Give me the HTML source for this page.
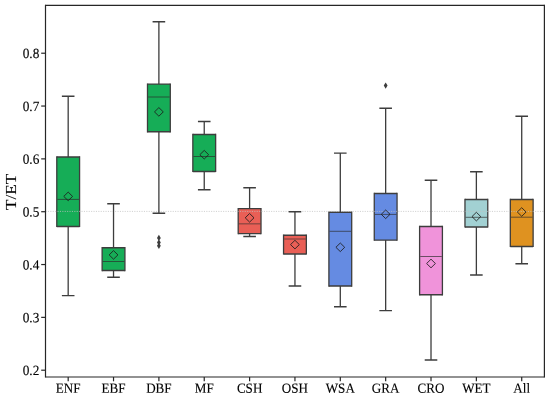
<!DOCTYPE html>
<html><head><meta charset="utf-8"><title>T/ET boxplot</title>
<style>html,body{margin:0;padding:0;background:#fff}svg{display:block}text{font-family:"Liberation Serif","Times New Roman",serif;fill:#000;stroke:#000;stroke-width:0.12px}</style></head><body>
<svg width="550" height="397" viewBox="0 0 550 397">
<rect x="0" y="0" width="550" height="397" fill="#fff"/>
<g stroke="#3d3d3d" fill="none">
<rect x="56.78" y="157.0" width="22.8" height="69.40" fill="#16ad57" stroke="none"/>
<path d="M56.78 156.28V227.12M79.58 156.28V227.12" stroke-width="1.3"/>
<path d="M56.78 157.0H79.58M56.78 226.4H79.58" stroke-width="1.45"/>
</g>
<g stroke="#3d3d3d" fill="none">
<rect x="102.13" y="247.7" width="22.8" height="22.80" fill="#16ad57" stroke="none"/>
<path d="M102.13 246.97V271.23M124.93 246.97V271.23" stroke-width="1.3"/>
<path d="M102.13 247.7H124.93M102.13 270.5H124.93" stroke-width="1.45"/>
</g>
<g stroke="#3d3d3d" fill="none">
<rect x="147.49" y="84.1" width="22.8" height="47.60" fill="#16ad57" stroke="none"/>
<path d="M147.49 83.38V132.42M170.29 83.38V132.42" stroke-width="1.3"/>
<path d="M147.49 84.1H170.29M147.49 131.7H170.29" stroke-width="1.45"/>
</g>
<g stroke="#3d3d3d" fill="none">
<rect x="192.84" y="134.5" width="22.8" height="36.90" fill="#16ad57" stroke="none"/>
<path d="M192.84 133.78V172.12M215.64 133.78V172.12" stroke-width="1.3"/>
<path d="M192.84 134.5H215.64M192.84 171.4H215.64" stroke-width="1.45"/>
</g>
<g stroke="#3d3d3d" fill="none">
<rect x="238.20" y="208.6" width="22.8" height="25.00" fill="#e95f56" stroke="none"/>
<path d="M238.20 207.88V234.32M261.00 207.88V234.32" stroke-width="1.3"/>
<path d="M238.20 208.6H261.00M238.20 233.6H261.00" stroke-width="1.45"/>
</g>
<g stroke="#3d3d3d" fill="none">
<rect x="283.55" y="235.2" width="22.8" height="18.70" fill="#e95f56" stroke="none"/>
<path d="M283.55 234.47V254.62M306.35 234.47V254.62" stroke-width="1.3"/>
<path d="M283.55 235.2H306.35M283.55 253.9H306.35" stroke-width="1.45"/>
</g>
<g stroke="#3d3d3d" fill="none">
<rect x="328.90" y="212.2" width="22.8" height="73.80" fill="#658be2" stroke="none"/>
<path d="M328.90 211.47V286.73M351.70 211.47V286.73" stroke-width="1.3"/>
<path d="M328.90 212.2H351.70M328.90 286.0H351.70" stroke-width="1.45"/>
</g>
<g stroke="#3d3d3d" fill="none">
<rect x="374.26" y="193.5" width="22.8" height="46.60" fill="#658be2" stroke="none"/>
<path d="M374.26 192.78V240.82M397.06 192.78V240.82" stroke-width="1.3"/>
<path d="M374.26 193.5H397.06M374.26 240.1H397.06" stroke-width="1.45"/>
</g>
<g stroke="#3d3d3d" fill="none">
<rect x="419.61" y="226.5" width="22.8" height="68.20" fill="#f093da" stroke="none"/>
<path d="M419.61 225.78V295.43M442.41 225.78V295.43" stroke-width="1.3"/>
<path d="M419.61 226.5H442.41M419.61 294.7H442.41" stroke-width="1.45"/>
</g>
<g stroke="#3d3d3d" fill="none">
<rect x="464.97" y="199.5" width="22.8" height="27.40" fill="#a2d1d3" stroke="none"/>
<path d="M464.97 198.78V227.62M487.77 198.78V227.62" stroke-width="1.3"/>
<path d="M464.97 199.5H487.77M464.97 226.9H487.77" stroke-width="1.45"/>
</g>
<g stroke="#3d3d3d" fill="none">
<rect x="510.32" y="199.5" width="22.8" height="46.90" fill="#df9220" stroke="none"/>
<path d="M510.32 198.78V247.12M533.12 198.78V247.12" stroke-width="1.3"/>
<path d="M510.32 199.5H533.12M510.32 246.4H533.12" stroke-width="1.45"/>
</g>
<line x1="45.5" y1="211.4" x2="544.4" y2="211.4" stroke="#c0c0c0" stroke-opacity="0.75" stroke-width="1" stroke-dasharray="1.1 1.3"/>
<g stroke="#3d3d3d" fill="none">
<path d="M68.18 96.3V157.0M68.18 226.4V295.6" stroke-width="1.3"/>
<path d="M61.88 96.3H74.48M61.88 295.6H74.48" stroke-width="1.45"/>
<path d="M57.43 199.4H78.93" stroke-width="0.85" stroke="#2b2b2b" stroke-opacity="0.8"/>
<path d="M68.18 192.10L72.58 196.40L68.18 200.70L63.78 196.40Z" stroke-width="0.85" stroke="#1c1c1c"/>
</g>
<g stroke="#3d3d3d" fill="none">
<path d="M113.53 203.8V247.7M113.53 270.5V277.3" stroke-width="1.3"/>
<path d="M107.23 203.8H119.83M107.23 277.3H119.83" stroke-width="1.45"/>
<path d="M102.78 261.5H124.28" stroke-width="0.85" stroke="#2b2b2b" stroke-opacity="0.8"/>
<path d="M113.53 250.60L117.93 254.90L113.53 259.20L109.13 254.90Z" stroke-width="0.85" stroke="#1c1c1c"/>
</g>
<g stroke="#3d3d3d" fill="none">
<path d="M158.89 21.8V84.1M158.89 131.7V213.2" stroke-width="1.3"/>
<path d="M152.59 21.8H165.19M152.59 213.2H165.19" stroke-width="1.45"/>
<path d="M148.14 97.0H169.64" stroke-width="0.85" stroke="#2b2b2b" stroke-opacity="0.8"/>
<path d="M158.89 107.60L163.29 111.90L158.89 116.20L154.49 111.90Z" stroke-width="0.85" stroke="#1c1c1c"/>
</g>
<path d="M158.89 234.80L160.79 237.90L158.89 241.00L156.99 237.90Z" fill="#3d3d3d"/>
<path d="M158.89 239.30L160.79 242.40L158.89 245.50L156.99 242.40Z" fill="#3d3d3d"/>
<path d="M158.89 242.70L160.79 245.80L158.89 248.90L156.99 245.80Z" fill="#3d3d3d"/>
<g stroke="#3d3d3d" fill="none">
<path d="M204.24 121.4V134.5M204.24 171.4V189.8" stroke-width="1.3"/>
<path d="M197.94 121.4H210.54M197.94 189.8H210.54" stroke-width="1.45"/>
<path d="M193.49 156.5H214.99" stroke-width="0.85" stroke="#2b2b2b" stroke-opacity="0.8"/>
<path d="M204.24 150.40L208.64 154.70L204.24 159.00L199.84 154.70Z" stroke-width="0.85" stroke="#1c1c1c"/>
</g>
<g stroke="#3d3d3d" fill="none">
<path d="M249.60 187.7V208.6M249.60 233.6V236.4" stroke-width="1.3"/>
<path d="M243.30 187.7H255.90M243.30 236.4H255.90" stroke-width="1.45"/>
<path d="M238.85 223.8H260.35" stroke-width="1.25" stroke="#2b2b2b" stroke-opacity="0.5"/>
<path d="M249.60 213.50L254.00 217.80L249.60 222.10L245.20 217.80Z" stroke-width="0.85" stroke="#1c1c1c"/>
</g>
<g stroke="#3d3d3d" fill="none">
<path d="M294.95 211.7V235.2M294.95 253.9V285.9" stroke-width="1.3"/>
<path d="M288.65 211.7H301.25M288.65 285.9H301.25" stroke-width="1.45"/>
<path d="M284.20 239.0H305.70" stroke-width="1.25" stroke="#2b2b2b" stroke-opacity="0.5"/>
<path d="M294.95 240.30L299.35 244.60L294.95 248.90L290.55 244.60Z" stroke-width="0.85" stroke="#1c1c1c"/>
</g>
<g stroke="#3d3d3d" fill="none">
<path d="M340.30 153.1V212.2M340.30 286.0V306.8" stroke-width="1.3"/>
<path d="M334.00 153.1H346.60M334.00 306.8H346.60" stroke-width="1.45"/>
<path d="M329.55 231.3H351.05" stroke-width="0.85" stroke="#2b2b2b" stroke-opacity="0.8"/>
<path d="M340.30 243.00L344.70 247.30L340.30 251.60L335.90 247.30Z" stroke-width="0.85" stroke="#1c1c1c"/>
</g>
<g stroke="#3d3d3d" fill="none">
<path d="M385.66 108.2V193.5M385.66 240.1V310.6" stroke-width="1.3"/>
<path d="M379.36 108.2H391.96M379.36 310.6H391.96" stroke-width="1.45"/>
<path d="M374.91 214.4H396.41" stroke-width="0.85" stroke="#2b2b2b" stroke-opacity="0.8"/>
<path d="M385.66 210.00L390.06 214.30L385.66 218.60L381.26 214.30Z" stroke-width="0.85" stroke="#1c1c1c"/>
</g>
<path d="M385.66 82.50L387.56 85.60L385.66 88.70L383.76 85.60Z" fill="#3d3d3d"/>
<g stroke="#3d3d3d" fill="none">
<path d="M431.01 180.2V226.5M431.01 294.7V359.9" stroke-width="1.3"/>
<path d="M424.71 180.2H437.31M424.71 359.9H437.31" stroke-width="1.45"/>
<path d="M420.26 256.5H441.76" stroke-width="0.85" stroke="#2b2b2b" stroke-opacity="0.8"/>
<path d="M431.01 259.20L435.41 263.50L431.01 267.80L426.61 263.50Z" stroke-width="0.85" stroke="#1c1c1c"/>
</g>
<g stroke="#3d3d3d" fill="none">
<path d="M476.37 171.8V199.5M476.37 226.9V275.0" stroke-width="1.3"/>
<path d="M470.07 171.8H482.67M470.07 275.0H482.67" stroke-width="1.45"/>
<path d="M465.62 217.3H487.12" stroke-width="0.85" stroke="#2b2b2b" stroke-opacity="0.8"/>
<path d="M476.37 212.30L480.77 216.60L476.37 220.90L471.97 216.60Z" stroke-width="0.85" stroke="#1c1c1c"/>
</g>
<g stroke="#3d3d3d" fill="none">
<path d="M521.72 116.2V199.5M521.72 246.4V263.7" stroke-width="1.3"/>
<path d="M515.42 116.2H528.02M515.42 263.7H528.02" stroke-width="1.45"/>
<path d="M510.97 217.2H532.47" stroke-width="0.85" stroke="#2b2b2b" stroke-opacity="0.8"/>
<path d="M521.72 207.70L526.12 212.00L521.72 216.30L517.32 212.00Z" stroke-width="0.85" stroke="#1c1c1c"/>
</g>
<path d="M45.5 4.7V377.6M544.4 4.7V377.6" fill="none" stroke="#262626" stroke-width="1.2"/>
<path d="M45.5 5.3H544.4M45.5 377.0H544.4" fill="none" stroke="#262626" stroke-width="1.2"/>
<line x1="41.2" y1="370.20" x2="45.5" y2="370.20" stroke="#262626" stroke-width="1.2"/>
<text transform="translate(39.3 375.05) rotate(0.03) scale(1 1.06)" font-size="13.3" text-anchor="end">0.2</text>
<line x1="41.2" y1="317.37" x2="45.5" y2="317.37" stroke="#262626" stroke-width="1.2"/>
<text transform="translate(39.3 322.22) rotate(0.03) scale(1 1.06)" font-size="13.3" text-anchor="end">0.3</text>
<line x1="41.2" y1="264.54" x2="45.5" y2="264.54" stroke="#262626" stroke-width="1.2"/>
<text transform="translate(39.3 269.39) rotate(0.03) scale(1 1.06)" font-size="13.3" text-anchor="end">0.4</text>
<line x1="41.2" y1="211.71" x2="45.5" y2="211.71" stroke="#262626" stroke-width="1.2"/>
<text transform="translate(39.3 216.56) rotate(0.03) scale(1 1.06)" font-size="13.3" text-anchor="end">0.5</text>
<line x1="41.2" y1="158.88" x2="45.5" y2="158.88" stroke="#262626" stroke-width="1.2"/>
<text transform="translate(39.3 163.73) rotate(0.03) scale(1 1.06)" font-size="13.3" text-anchor="end">0.6</text>
<line x1="41.2" y1="106.05" x2="45.5" y2="106.05" stroke="#262626" stroke-width="1.2"/>
<text transform="translate(39.3 110.90) rotate(0.03) scale(1 1.06)" font-size="13.3" text-anchor="end">0.7</text>
<line x1="41.2" y1="53.22" x2="45.5" y2="53.22" stroke="#262626" stroke-width="1.2"/>
<text transform="translate(39.3 58.07) rotate(0.03) scale(1 1.06)" font-size="13.3" text-anchor="end">0.8</text>
<line x1="68.18" y1="377.0" x2="68.18" y2="381.3" stroke="#262626" stroke-width="1.2"/>
<text transform="translate(68.18 392.7) rotate(0.03) scale(1 1.065)" font-size="13.1" text-anchor="middle">ENF</text>
<line x1="113.53" y1="377.0" x2="113.53" y2="381.3" stroke="#262626" stroke-width="1.2"/>
<text transform="translate(113.53 392.7) rotate(0.03) scale(1 1.065)" font-size="13.1" text-anchor="middle">EBF</text>
<line x1="158.89" y1="377.0" x2="158.89" y2="381.3" stroke="#262626" stroke-width="1.2"/>
<text transform="translate(158.89 392.7) rotate(0.03) scale(1 1.065)" font-size="13.1" text-anchor="middle">DBF</text>
<line x1="204.24" y1="377.0" x2="204.24" y2="381.3" stroke="#262626" stroke-width="1.2"/>
<text transform="translate(204.24 392.7) rotate(0.03) scale(1 1.065)" font-size="13.1" text-anchor="middle">MF</text>
<line x1="249.60" y1="377.0" x2="249.60" y2="381.3" stroke="#262626" stroke-width="1.2"/>
<text transform="translate(249.60 392.7) rotate(0.03) scale(1 1.065)" font-size="13.1" text-anchor="middle">CSH</text>
<line x1="294.95" y1="377.0" x2="294.95" y2="381.3" stroke="#262626" stroke-width="1.2"/>
<text transform="translate(294.95 392.7) rotate(0.03) scale(1 1.065)" font-size="13.1" text-anchor="middle">OSH</text>
<line x1="340.30" y1="377.0" x2="340.30" y2="381.3" stroke="#262626" stroke-width="1.2"/>
<text transform="translate(340.30 392.7) rotate(0.03) scale(1 1.065)" font-size="13.1" text-anchor="middle">WSA</text>
<line x1="385.66" y1="377.0" x2="385.66" y2="381.3" stroke="#262626" stroke-width="1.2"/>
<text transform="translate(385.66 392.7) rotate(0.03) scale(1 1.065)" font-size="13.1" text-anchor="middle">GRA</text>
<line x1="431.01" y1="377.0" x2="431.01" y2="381.3" stroke="#262626" stroke-width="1.2"/>
<text transform="translate(431.01 392.7) rotate(0.03) scale(1 1.065)" font-size="13.1" text-anchor="middle">CRO</text>
<line x1="476.37" y1="377.0" x2="476.37" y2="381.3" stroke="#262626" stroke-width="1.2"/>
<text transform="translate(476.37 392.7) rotate(0.03) scale(1 1.065)" font-size="13.1" text-anchor="middle">WET</text>
<line x1="521.72" y1="377.0" x2="521.72" y2="381.3" stroke="#262626" stroke-width="1.2"/>
<text transform="translate(521.72 392.7) rotate(0.03) scale(1 1.065)" font-size="13.1" text-anchor="middle">All</text>
<text transform="translate(16.1 191.85) scale(1 1.115) rotate(-90)" font-size="15.45" text-anchor="middle">T/ET</text>
</svg></body></html>
